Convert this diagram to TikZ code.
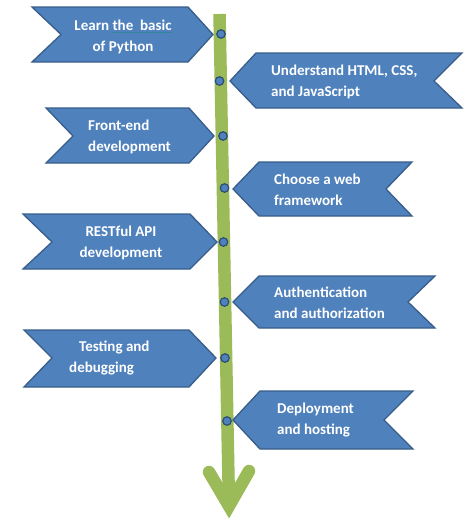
\documentclass[tikz,border=0pt]{standalone}
\usepackage{fontspec}
\setmainfont{Carlito}
\usepackage{tikz}

\definecolor{signblue}{HTML}{4F81BD}
\definecolor{signedge}{HTML}{385D8A}
\definecolor{dotedge}{HTML}{2C4D75}
\definecolor{stemgreen}{HTML}{9BBB59}
\definecolor{lineteal}{HTML}{31859C}

\begin{document}
\begin{tikzpicture}[x=1pt, y=-1pt,
	sign/.style={fill=signblue, draw=signedge, line width=1.3pt, line join=miter},
	label/.style={text=white, font=\fontsize{15}{20.5}\selectfont\bfseries, inner sep=0pt},
	dot/.style={circle, fill=signblue, draw=dotedge, line width=1.2pt, minimum size=8.5pt, inner sep=0pt}]
	\useasboundingbox (0,0) rectangle (474,523);
	% the time line
	\coordinate (top) at (219.5,14);
	\coordinate (tip) at (229,506);
	\coordinate (armL) at (209,472);
	\coordinate (armR) at (249,471);
	\draw[stemgreen, line width=12.5pt] (top) -- (tip);
	\draw[stemgreen, line width=12.5pt, line cap=round, line join=miter] (armL) -- (tip) -- (armR);
	% signs on the left, pointing right
	\draw[sign] (32,7) -- (188,7) -- (213,34.5) -- (188,62) -- (32,62) -- (61,34.5) -- cycle;
	\draw[sign] (46,108) -- (189,108) -- (214,136) -- (189,163) -- (46,163) -- (73,136) -- cycle;
	\draw[sign] (23,214) -- (190,214) -- (217,242) -- (190,269) -- (23,269) -- (52,242) -- cycle;
	\draw[sign] (24,330) -- (189,330) -- (216,358) -- (189,387) -- (24,387) -- (52,358) -- cycle;
	% signs on the right, pointing left
	\draw[sign] (230,81) -- (256,53) -- (462,53) -- (434,81) -- (462,108) -- (256,108) -- cycle;
	\draw[sign] (233,189) -- (259,162) -- (412,162) -- (386,189) -- (412,216) -- (259,216) -- cycle;
	\draw[sign] (233,302) -- (259,276) -- (435,276) -- (408,302) -- (435,328) -- (259,328) -- cycle;
	\draw[sign] (233,420) -- (260,391) -- (413,391) -- (384,420) -- (413,449) -- (260,449) -- cycle;
	% texts
	\node[label, align=center] (python) at (123,37) {Learn the\ \ basic\\of Python};
	\node[label, align=left, anchor=west] (html) at (271,82) {Understand HTML, CSS,\\and JavaScript};
	\node[label, align=left, anchor=west] (front) at (88,137) {Front-end\\development};
	\node[label, align=left, anchor=west] (framework) at (274,190) {Choose a web\\framework};
	\node[label, align=center] (rest) at (121,243) {RESTful API\\development};
	\node[label, align=left, anchor=west] (auth) at (274,303) {Authentication\\and authorization};
	\node[label, align=left, anchor=west] (testing) at (69,358) {\hspace*{10pt}Testing and\\debugging};
	\node[label, align=left, anchor=west] (deploy) at (277,420) {Deployment\\and hosting};
	\draw[lineteal, line width=0.8pt] (113,32.5) -- (172,32.5);
	% dots on the time line
	\node[dot] (d1) at (221,34) {};
	\node[dot] (d2) at (219.5,81) {};
	\node[dot] (d3) at (223,136) {};
	\node[dot] (d4) at (224.5,188) {};
	\node[dot] (d5) at (223.5,242) {};
	\node[dot] (d6) at (224.5,302) {};
	\node[dot] (d7) at (225,358) {};
	\node[dot] (d8) at (227,421) {};
\end{tikzpicture}
\end{document}
